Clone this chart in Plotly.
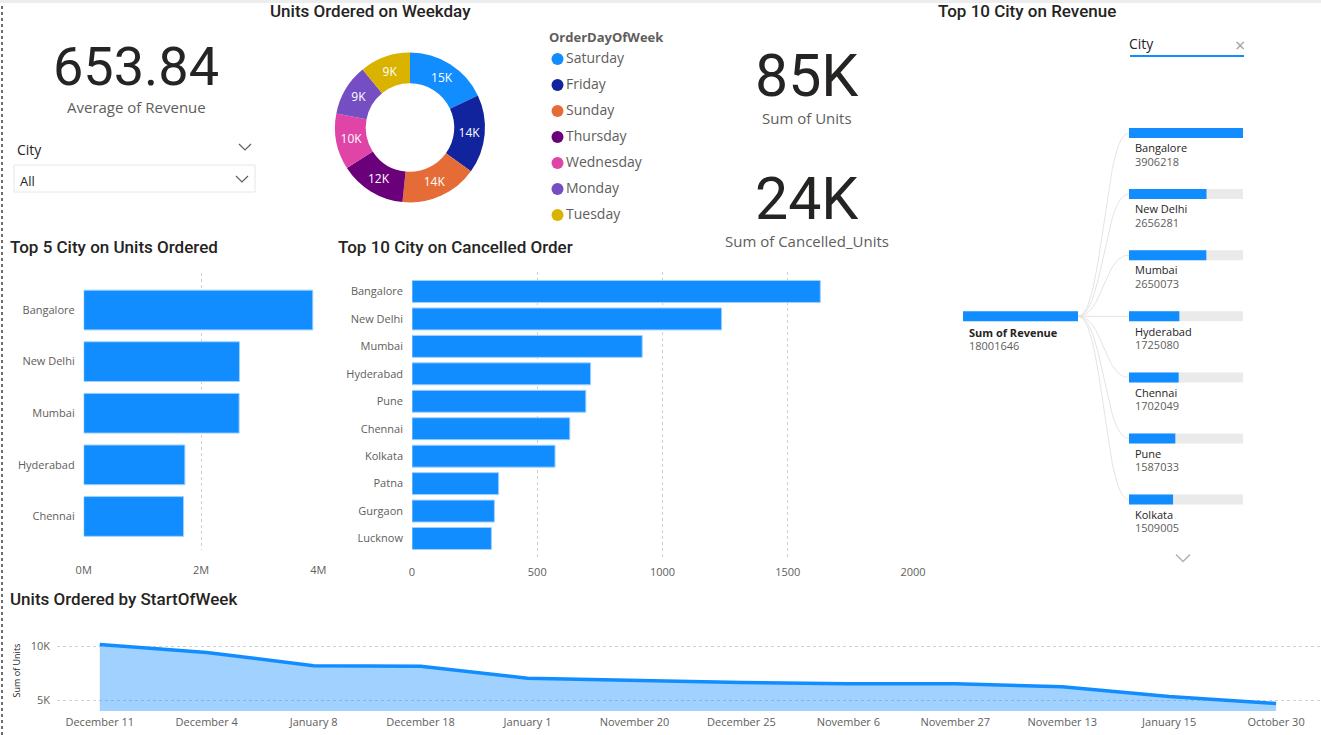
import numpy as np
import plotly.graph_objects as go

W, H = 1321, 735
def fx(p): return p / W
def fy(p): return 1 - p / H

# ---------------- data ----------------
weekdays = ["Saturday", "Friday", "Sunday", "Thursday", "Wednesday", "Monday", "Tuesday"]
weekday_units = [15200, 14300, 14100, 12100, 10200, 9400, 9200]
weekday_colors = ["#118DFF", "#12239E", "#E66C37", "#6B007B", "#E044A7", "#744EC2", "#D9B300"]

top5_cities = ["Bangalore", "New Delhi", "Mumbai", "Hyderabad", "Chennai"]
top5_values = [3906218, 2656281, 2650073, 1725080, 1702049]
top5_ticks = [0, 2000000, 4000000]

cancel_cities = ["Bangalore", "New Delhi", "Mumbai", "Hyderabad", "Pune", "Chennai",
                 "Kolkata", "Patna", "Gurgaon", "Lucknow"]
cancel_units = [1630, 1236, 919, 713, 694, 630, 571, 346, 329, 317]
cancel_ticks = [0, 500, 1000, 1500, 2000]

rev_cities = ["Bangalore", "New Delhi", "Mumbai", "Hyderabad", "Chennai", "Pune", "Kolkata"]
rev_values = [3906218, 2656281, 2650073, 1725080, 1702049, 1587033, 1509005]
rev_total = 18001646

weeks = ["December 11", "December 4", "January 8", "December 18", "January 1", "November 20",
         "December 25", "November 6", "November 27", "November 13", "January 15", "October 30"]
week_units = [10150, 9420, 8200, 8140, 7040, 6830, 6650, 6520, 6520, 6250, 5340, 4700]
week_ticks = [5000, 10000]

avg_revenue = 653.84
sum_units = 85000
sum_cancelled = 24000

# ---------------- styles ----------------
BLUE = "#118DFF"
DARK = "#252423"
GRAY = "#605E5C"
GRID = "#D2D0CE"
UI = "Open Sans, Noto Sans, sans-serif"
DIN = "Roboto, DejaVu Sans, sans-serif"
TITLE = dict(family=DIN, size=17, color=DARK, weight=500)
TICK = dict(family=UI, size=11, color=GRAY)

fig = go.Figure()

# ---------------- donut ----------------
fig.add_trace(go.Pie(
    labels=weekdays, values=weekday_units, sort=False, direction="clockwise", rotation=0,
    hole=0.59, marker=dict(colors=weekday_colors, line=dict(width=0)),
    text=[f"{v/1000:.0f}K" for v in weekday_units], textinfo="text",
    textfont=dict(family=UI, size=12, color="white"), insidetextorientation="horizontal",
    domain=dict(x=[fx(335), fx(485)], y=[fy(202.5), fy(52.5)]),
    showlegend=False, hoverinfo="label+value"))

# manual legend for the donut
fig.add_trace(go.Scatter(
    x=[0.05] * len(weekdays), y=list(range(len(weekdays))), mode="markers+text",
    marker=dict(color=weekday_colors, size=12), text=weekdays, textposition="middle right",
    textfont=dict(family=UI, size=14, color=GRAY), xaxis="x6", yaxis="y6",
    showlegend=False, hoverinfo="skip"))

# ---------------- top 5 bars ----------------
fig.add_trace(go.Bar(
    x=top5_values, y=top5_cities, orientation="h", width=0.77,
    marker=dict(color=BLUE, line=dict(color="#A0D1FF", width=1)),
    xaxis="x", yaxis="y", showlegend=False))

# ---------------- cancelled bars ----------------
fig.add_trace(go.Bar(
    x=cancel_units, y=cancel_cities, orientation="h", width=0.8,
    marker=dict(color=BLUE, line=dict(color="#A0D1FF", width=1)),
    xaxis="x2", yaxis="y2", showlegend=False))

# ---------------- decomposition tree ----------------
n = len(rev_cities)
child_idx = list(range(n))
root_y = (n - 1) / 2
rev_max = max(rev_values)
fig.add_trace(go.Bar(
    x=[rev_max] * n, y=child_idx, orientation="h", width=0.164,
    marker=dict(color="#EAEAEA", line=dict(width=0)),
    xaxis="x3", yaxis="y3", showlegend=False, hoverinfo="skip"))
fig.add_trace(go.Bar(
    x=rev_values, y=child_idx, orientation="h", width=0.164,
    marker=dict(color=BLUE, line=dict(width=0)), text=rev_cities, textposition="none",
    xaxis="x3", yaxis="y3", showlegend=False))
fig.add_trace(go.Bar(
    x=[rev_total], y=[root_y], orientation="h", width=0.164,
    marker=dict(color=BLUE, line=dict(width=0)),
    xaxis="x4", yaxis="y3", showlegend=False))
t = np.linspace(0, 1, 40)
for yi in child_idx:
    bx = 3 * (1 - t) ** 2 * t * 0.5 + 3 * (1 - t) * t ** 2 * 0.5 + t ** 3
    by = ((1 - t) ** 3 + 3 * (1 - t) ** 2 * t) * root_y + (3 * (1 - t) * t ** 2 + t ** 3) * yi
    fig.add_trace(go.Scatter(x=bx, y=by, mode="lines", line=dict(color="#E6E4E2", width=1),
                             xaxis="x5", yaxis="y3", showlegend=False, hoverinfo="skip"))

# ---------------- area line ----------------
fig.add_trace(go.Scatter(
    x=weeks, y=week_units, mode="lines", line=dict(color=BLUE, width=3.5),
    fill="tozeroy", fillcolor="rgba(17,141,255,0.4)",
    xaxis="x7", yaxis="y7", showlegend=False))

# ---------------- axes ----------------
hidden = dict(visible=False, showgrid=False, zeroline=False, fixedrange=True, automargin=False)
grid = dict(showgrid=True, gridcolor=GRID, griddash="dot", gridwidth=1, zeroline=False,
            showline=False, ticks="", tickfont=TICK, fixedrange=True, automargin=False)
cat = dict(type="category", showgrid=False, zeroline=False, showline=False, ticks="",
           tickfont=TICK, fixedrange=True, automargin=False)

fig.update_layout(
    width=W, height=H, margin=dict(l=0, r=0, t=0, b=0, pad=0), autosize=False,
    paper_bgcolor="white", plot_bgcolor="rgba(0,0,0,0)", showlegend=False, barmode="overlay",
    xaxis=dict(domain=[fx(83.7), fx(318.3)], range=[0, 4000000], anchor="y",
               tickvals=top5_ticks, ticktext=[f"{v/1e6:.0f}M" for v in top5_ticks],
               ticklabelstandoff=12, **grid),
    yaxis=dict(domain=[fy(550), fy(273)], range=[4.65, -0.717], anchor="x",
               ticklabelstandoff=8, **cat),
    xaxis2=dict(domain=[fx(412), fx(913)], range=[0, 2000], anchor="y2",
                tickvals=cancel_ticks, ticktext=[str(v) for v in cancel_ticks],
                ticklabelstandoff=6, **grid),
    yaxis2=dict(domain=[fy(558), fy(272)], range=[9.71, -0.71], anchor="x2",
                ticklabelstandoff=8, **cat),
    xaxis3=dict(domain=[fx(1129), fx(1243)], range=[0, rev_max], anchor="y3", **hidden),
    yaxis3=dict(domain=[fy(540), fy(100)], range=[(540 - 133) / 61.1, (100 - 133) / 61.1],
                anchor="x3", **hidden),
    xaxis4=dict(domain=[fx(963), fx(1078)], range=[0, rev_total], anchor="y3", **hidden),
    xaxis5=dict(domain=[fx(1078), fx(1129)], range=[0, 1], anchor="y3", **hidden),
    xaxis6=dict(domain=[fx(550), fx(700)], range=[0, 1], anchor="y6", **hidden),
    yaxis6=dict(domain=[fy(230), fy(40)], range=[(230 - 59) / 26, (40 - 59) / 26],
                anchor="x6", **hidden),
    xaxis7=dict(domain=[fx(57), 1], range=[-0.40, 11.42], anchor="y7",
                ticklabelstandoff=3, **cat),
    yaxis7=dict(domain=[fy(711), fy(630)], range=[4000, 11500], anchor="x7",
                tickvals=week_ticks, ticktext=[f"{v/1000:.0f}K" for v in week_ticks],
                ticklabelstandoff=6,
                title=dict(text="Sum of Units", font=dict(family=UI, size=9, color=DARK),
                           standoff=8),
                **grid),
)

# ---------------- text ----------------
ann = []
def txt(x, y, s, font, xanchor="left", **kw):
    ann.append(dict(x=fx(x), y=fy(y), xref="paper", yref="paper", text=s, showarrow=False,
                    xanchor=xanchor, yanchor="middle", font=font, **kw))

# titles
txt(268, 11, "Units Ordered on Weekday", TITLE)
txt(936, 11, "Top 10 City on Revenue", TITLE)
txt(8, 247, "Top 5 City on Units Ordered", TITLE)
txt(336, 247, "Top 10 City on Cancelled Order", TITLE)
txt(8, 599, "Units Ordered by StartOfWeek", TITLE)

# KPI cards (fixed box height keeps the big figures' boxes off their captions)
txt(136, 66, f"{avg_revenue:.2f}", dict(family=DIN, size=54, color=DARK), "center",
    height=48, valign="middle")
txt(136, 107, "Average of Revenue", dict(family=UI, size=15, color=GRAY), "center")
txt(807, 75, f"{sum_units/1000:.0f}K", dict(family=DIN, size=59, color=DARK), "center",
    height=52, valign="middle")
txt(807, 118, "Sum of Units", dict(family=UI, size=15, color=GRAY), "center")
txt(807, 198, f"{sum_cancelled/1000:.0f}K", dict(family=DIN, size=59, color=DARK), "center",
    height=52, valign="middle")
txt(807, 241, "Sum of Cancelled_Units", dict(family=UI, size=15, color=GRAY), "center")

# slicer
txt(15, 149, "City", dict(family=UI, size=14, color=DARK))
txt(18, 181, "All", dict(family=UI, size=13, color=DARK))

# legend title
txt(547, 37, "<b>OrderDayOfWeek</b>", dict(family=UI, size=13, color=GRAY))

# decomposition tree header
txt(1127, 44, "City", dict(family=UI, size=14, color=DARK))
txt(1240, 45, "×", dict(family=UI, size=18, color="#A19F9D"), "center")

# decomposition labels
for i, (c, v) in enumerate(zip(rev_cities, rev_values)):
    ann.append(dict(x=0, y=i, xref="x3", yref="y3", text=c, showarrow=False, xanchor="left",
                    yanchor="middle", xshift=4, yshift=-14.7,
                    font=dict(family=UI, size=11, color=DARK)))
    ann.append(dict(x=0, y=i, xref="x3", yref="y3", text=str(v), showarrow=False,
                    xanchor="left", yanchor="middle", xshift=4, yshift=-28.3,
                    font=dict(family=UI, size=11, color=GRAY)))
ann.append(dict(x=0, y=root_y, xref="x4", yref="y3", text="<b>Sum of Revenue</b>",
                showarrow=False, xanchor="left", yanchor="middle", xshift=4, yshift=-15.7,
                font=dict(family=UI, size=11, color=DARK)))
ann.append(dict(x=0, y=root_y, xref="x4", yref="y3", text=str(rev_total),
                showarrow=False, xanchor="left", yanchor="middle", xshift=4, yshift=-29.3,
                font=dict(family=UI, size=11, color=GRAY)))
fig.update_layout(annotations=ann)

# ---------------- decorations ----------------
shapes = []
def chevron(cx, cy, w, h, color, width=1.2):
    path = (f"M {fx(cx - w / 2)},{fy(cy - h / 2)} L {fx(cx)},{fy(cy + h / 2)} "
            f"L {fx(cx + w / 2)},{fy(cy - h / 2)}")
    shapes.append(dict(type="path", xref="paper", yref="paper", path=path,
                       line=dict(color=color, width=width)))

# left dotted border and top shadow
shapes.append(dict(type="line", xref="paper", yref="paper", x0=fx(2), x1=fx(2), y0=0, y1=1,
                   line=dict(color="#6E6E6E", width=2, dash="dot")))
shapes.append(dict(type="rect", xref="paper", yref="paper", x0=0, x1=1, y0=fy(3), y1=1,
                   fillcolor="#EDEDED", line=dict(width=0)))
# slicer box
shapes.append(dict(type="rect", xref="paper", yref="paper", x0=fx(14), x1=fx(255),
                   y0=fy(192), y1=fy(165), line=dict(color="#E6E6E6", width=1)))
chevron(245, 147, 12, 6, GRAY)
chevron(242, 179, 12, 6, GRAY)
# decomposition header underline
shapes.append(dict(type="line", xref="paper", yref="paper", x0=fx(1130), x1=fx(1244),
                   y0=fy(56), y1=fy(56), line=dict(color=BLUE, width=2)))
chevron(1183, 558, 14, 7, "#B3B0AD", 1.5)
fig.update_layout(shapes=shapes)

fig.write_html("out.html", config={"responsive": False, "displayModeBar": False},
               post_script="document.body.style.margin='0';")
